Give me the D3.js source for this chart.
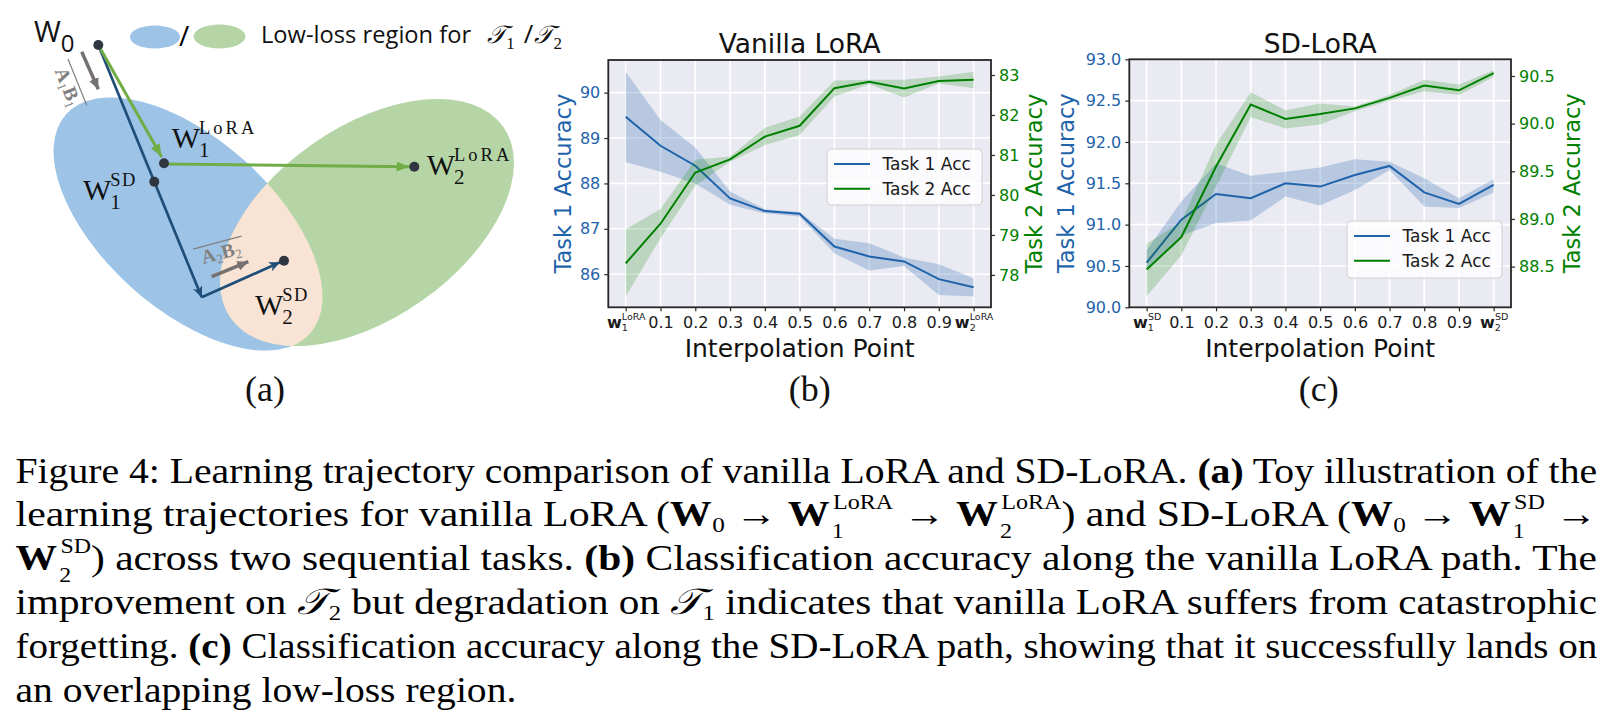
<!DOCTYPE html>
<html><head><meta charset="utf-8">
<script src="https://cdn.jsdelivr.net/npm/d3@7/dist/d3.min.js"></script>
<style>body{margin:0;background:#fff;} svg{display:block;}</style>
</head><body>
<script>
// ================= DATA =================
const interpIndex = [0,1,2,3,4,5,6,7,8,9,10];
const vanillaTickLabels = ["w_1^LoRA","0.1","0.2","0.3","0.4","0.5","0.6","0.7","0.8","0.9","w_2^LoRA"];
const sdTickLabels = ["w_1^SD","0.1","0.2","0.3","0.4","0.5","0.6","0.7","0.8","0.9","w_2^SD"];
const seriesNames = ["Task 1 Acc","Task 2 Acc"];

const vanillaTask1   = [89.47,88.83,88.39,87.67,87.39,87.33,86.61,86.39,86.28,85.89,85.71];
const vanillaTask1Hi = [90.46,89.40,88.79,87.82,87.43,87.37,86.78,86.68,86.37,86.22,85.91];
const vanillaTask1Lo = [88.47,88.26,88.00,87.53,87.34,87.27,86.46,86.08,86.18,85.54,85.51];
const vanillaTask2   = [78.29,79.28,80.56,80.89,81.46,81.73,82.67,82.83,82.66,82.85,82.88];
const vanillaTask2Hi = [79.14,79.65,80.88,80.96,81.68,81.96,82.86,82.88,82.88,82.96,83.08];
const vanillaTask2Lo = [77.46,78.92,80.23,80.83,81.25,81.50,82.46,82.77,82.44,82.79,82.67];

const sdTask1   = [90.54,91.06,91.37,91.32,91.50,91.46,91.60,91.71,91.39,91.25,91.48];
const sdTask1Hi = [90.69,91.28,91.74,91.59,91.64,91.69,91.79,91.76,91.56,91.32,91.55];
const sdTask1Lo = [90.47,90.87,91.02,91.05,91.34,91.23,91.42,91.66,91.22,91.20,91.39];
const sdTask2   = [88.47,88.81,89.55,90.20,90.05,90.10,90.16,90.27,90.40,90.35,90.53];
const sdTask2Hi = [88.74,88.97,89.78,90.33,90.14,90.21,90.18,90.30,90.46,90.41,90.56];
const sdTask2Lo = [88.19,88.62,89.34,90.07,89.95,89.99,90.13,90.24,90.34,90.30,90.49];

const vanillaLeftTicks  = [86,87,88,89,90];
const vanillaRightTicks = [78,79,80,81,82,83];
const sdLeftTicks  = [90.0,90.5,91.0,91.5,92.0,92.5,93.0];
const sdRightTicks = [88.5,89.0,89.5,90.0,90.5];
const vanillaLeftDomain  = [85.27,90.72];
const vanillaRightDomain = [77.19,83.375];
const sdLeftDomain  = [90.0,93.0];
const sdRightDomain = [88.073,90.675];

// ================= SETUP =================
const BLUE = "#1f63ab", GREEN = "#008000";
const svg = d3.select("body").append("svg").attr("width",1615).attr("height",724)
  .style("background","#fff");
const defs = svg.append("defs");

// ================= PANEL (a) =================
(function panelA(){
  const blueE = {cx:188, cy:224, rx:164, ry:85, rot:42};
  const greenE = {cx:367, cy:222.5, rx:166.5, ry:95.6, rot:-35};
  const ell = (sel,e) => sel.attr("cx",e.cx).attr("cy",e.cy).attr("rx",e.rx).attr("ry",e.ry)
     .attr("transform",`rotate(${e.rot},${e.cx},${e.cy})`);
  ell(defs.append("clipPath").attr("id","greenClip").append("ellipse"), greenE);

  const mk = (id,color,w,h,notch) => {
    defs.append("marker").attr("id",id).attr("markerUnits","userSpaceOnUse")
      .attr("markerWidth",w).attr("markerHeight",h).attr("refX",w).attr("refY",h/2)
      .attr("orient","auto").attr("viewBox",`0 0 ${w} ${h}`)
      .append("path").attr("d",`M0,0 L${w},${h/2} L0,${h} L${notch},${h/2} Z`).attr("fill",color);
  };
  mk("arrGreen","#70AD47",13,10,0);
  mk("arrNavy","#1F4E79",11,10,3);
  mk("arrGray","#767171",11,10,0);

  const A = svg.append("g");
  ell(A.append("ellipse"), blueE).attr("fill","#9DC3E6");
  ell(A.append("ellipse"), greenE).attr("fill","#B5D5A6");
  ell(A.append("g").attr("clip-path","url(#greenClip)").append("ellipse"), blueE).attr("fill","#F8E3D5");

  // legend
  A.append("ellipse").attr("cx",155).attr("cy",37).attr("rx",25).attr("ry",11.5).attr("fill","#9DC3E6");
  A.append("text").attr("x",179).attr("y",46).attr("font-family","Open Sans").attr("font-size",28).text("/");
  A.append("ellipse").attr("cx",219.5).attr("cy",36.5).attr("rx",26).attr("ry",12).attr("fill","#B5D5A6");
  const lt = A.append("text").attr("x",261).attr("y",43.3).attr("font-family","Open Sans").attr("font-size",23.7).attr("fill","#111");
  lt.append("tspan").text("Low-loss region for ");
  lt.append("tspan").attr("dx",10).attr("font-family","DejaVu Serif").attr("font-style","italic").attr("font-size",25).text("𝒯");
  lt.append("tspan").attr("font-family","Liberation Serif").attr("font-size",17).attr("dy",6).text("1");
  lt.append("tspan").attr("dx",9).attr("dy",-6).attr("font-size",26).text("/");
  lt.append("tspan").attr("dx",1).attr("font-family","DejaVu Serif").attr("font-style","italic").attr("font-size",25).text("𝒯");
  lt.append("tspan").attr("font-family","Liberation Serif").attr("font-size",17).attr("dy",6).text("2");

  // gray arrows + labels
  A.append("line").attr("x1",81.7).attr("y1",51.7).attr("x2",98.3).attr("y2",89.3)
    .attr("stroke","#767171").attr("stroke-width",3.5).attr("marker-end","url(#arrGray)");
  A.append("line").attr("x1",211.7).attr("y1",276.7).attr("x2",248.3).attr("y2",261.7)
    .attr("stroke","#767171").attr("stroke-width",3.5).attr("marker-end","url(#arrGray)");
  const grayLabel = (cx,cy,rot,a,b) => {
    const g = A.append("g").attr("transform",`translate(${cx},${cy}) rotate(${rot})`);
    const t = g.append("text").attr("text-anchor","middle").attr("y",6.5).attr("fill","#808080")
      .attr("font-family","Liberation Serif").attr("font-weight","bold").attr("font-size",19.5);
    t.append("tspan").text("A");
    t.append("tspan").attr("font-size",13).attr("font-weight","normal").attr("dy",3.5).text(a);
    t.append("tspan").attr("dy",-3.5).text("B");
    t.append("tspan").attr("font-size",13).attr("font-weight","normal").attr("dy",3.5).text(b);
    g.append("line").attr("x1",-26).attr("x2",24).attr("y1",-10.5).attr("y2",-10.5).attr("stroke","#808080").attr("stroke-width",1.2);
  };
  grayLabel(68,87,68,"1","1");
  grayLabel(221,252.5,-15,"2","2");

  // trajectories
  A.append("line").attr("x1",98.3).attr("y1",45).attr("x2",201.7).attr("y2",297.3)
    .attr("stroke","#1F4E79").attr("stroke-width",2.7).attr("marker-end","url(#arrNavy)");
  A.append("line").attr("x1",201.7).attr("y1",297.3).attr("x2",280).attr("y2",262.3)
    .attr("stroke","#1F4E79").attr("stroke-width",2.7).attr("marker-end","url(#arrNavy)");
  A.append("line").attr("x1",99.3).attr("y1",46.7).attr("x2",161.7).attr("y2",157)
    .attr("stroke","#70AD47").attr("stroke-width",3).attr("marker-end","url(#arrGreen)");
  A.append("line").attr("x1",165).attr("y1",164).attr("x2",409.5).attr("y2",166.7)
    .attr("stroke","#70AD47").attr("stroke-width",3).attr("marker-end","url(#arrGreen)");

  // dots
  [[98.3,45],[164,163.3],[414.3,166.7],[154.3,181.7],[284,260.7]].forEach(p=>{
    A.append("circle").attr("cx",p[0]).attr("cy",p[1]).attr("r",5).attr("fill","#2f3640");
  });

  // W0 label (sans)
  const w0 = A.append("text").attr("x",34).attr("y",42).attr("font-family","Open Sans").attr("font-size",29).attr("fill","#111");
  w0.append("tspan").text("W");
  w0.append("tspan").attr("font-size",24).attr("dy",10).text("0");

  // W labels (serif with stacked sub/sup)
  const wLabel = (x, base, sub, sup, ls) => {
    const t = A.append("text").attr("x",x).attr("y",base).attr("font-family","Liberation Serif").attr("fill","#111");
    t.append("tspan").attr("font-size",30).text("W");
    t.append("tspan").attr("font-size",21).attr("dx",-1).attr("dy",9).text(sub);
    t.append("tspan").attr("font-size",18.5).attr("dx",-10.5).attr("dy",-23).attr("letter-spacing",ls).text(sup);
  };
  wLabel(171.7,148.3,"1","LoRA",3);
  wLabel(426.7,175,"2","LoRA",3);
  wLabel(83,200,"1","SD",1.5);
  wLabel(255,315,"2","SD",1.5);

  A.append("text").attr("x",265).attr("y",401).attr("text-anchor","middle")
    .attr("font-family","Liberation Serif").attr("font-size",36).attr("fill","#111").text("(a)");
})();

// ================= LINE CHARTS =================
function drawChart(c){
  const x = d3.scaleLinear().domain([-0.5,10.5]).range([c.left,c.right]);
  const yL = d3.scaleLinear().domain(c.leftDomain).range([c.bottom,c.top]);
  const yR = d3.scaleLinear().domain(c.rightDomain).range([c.bottom,c.top]);
  const g = svg.append("g");
  const W = c.right-c.left, H = c.bottom-c.top, midX = (c.left+c.right)/2, midY=(c.top+c.bottom)/2;

  g.append("rect").attr("x",c.left).attr("y",c.top).attr("width",W).attr("height",H).attr("fill","#EAEAF2");
  g.append("g").selectAll("line").data(interpIndex).join("line")
    .attr("x1",d=>x(d)).attr("x2",d=>x(d)).attr("y1",c.top).attr("y2",c.bottom)
    .attr("stroke","#fff").attr("stroke-width",1.6);
  g.append("g").selectAll("line").data(c.leftTicks).join("line")
    .attr("y1",d=>yL(d)).attr("y2",d=>yL(d)).attr("x1",c.left).attr("x2",c.right)
    .attr("stroke","#fff").attr("stroke-width",1.6);

  defs.append("clipPath").attr("id","clip"+c.id).append("rect")
    .attr("x",c.left).attr("y",c.top).attr("width",W).attr("height",H);
  const p = g.append("g").attr("clip-path",`url(#clip${c.id})`);
  const band = (lo,hi,y) => d3.area().x(i=>x(i)).y0(i=>y(lo[i])).y1(i=>y(hi[i]));
  const line = (v,y) => d3.line().x(i=>x(i)).y(i=>y(v[i]));
  p.append("path").datum(interpIndex).attr("d",band(c.t1Lo,c.t1Hi,yL)).attr("fill",BLUE).attr("fill-opacity",0.25);
  p.append("path").datum(interpIndex).attr("d",line(c.t1,yL)).attr("fill","none").attr("stroke",BLUE).attr("stroke-width",2);
  p.append("path").datum(interpIndex).attr("d",band(c.t2Lo,c.t2Hi,yR)).attr("fill",GREEN).attr("fill-opacity",0.2);
  p.append("path").datum(interpIndex).attr("d",line(c.t2,yR)).attr("fill","none").attr("stroke",GREEN).attr("stroke-width",2);

  g.append("rect").attr("x",c.left).attr("y",c.top).attr("width",W).attr("height",H)
    .attr("fill","none").attr("stroke","#262626").attr("stroke-width",1.8);

  const styleAxis = (ax,color) => {
    ax.select(".domain").remove();
    ax.selectAll(".tick line").attr("stroke","#262626").attr("stroke-width",1.2);
    ax.selectAll(".tick text").attr("font-family","DejaVu Sans").attr("font-size",16).attr("fill",color);
  };
  const xa = g.append("g").attr("transform",`translate(0,${c.bottom})`)
    .call(d3.axisBottom(x).tickValues(interpIndex).tickSize(4).tickPadding(5).tickFormat(i=>c.tickLabels[i]));
  styleAxis(xa,"#1a1a1a");
  xa.selectAll(".tick text").each(function(i){
    const m = /^w_(\d)\^(\w+)$/.exec(c.tickLabels[i]);
    if(!m) return;
    const t = d3.select(this); t.text("");
    t.append("tspan").attr("font-weight","bold").text("w");
    t.append("tspan").attr("font-size",9.5).attr("dy",3.5).text(m[1]);
    t.append("tspan").attr("font-size",9.5).attr("dx",-6).attr("dy",-11.5).text(m[2]);
  });
  const la = g.append("g").attr("transform",`translate(${c.left},0)`)
    .call(d3.axisLeft(yL).tickValues(c.leftTicks).tickSize(4).tickPadding(4).tickFormat(d3.format(c.fmt)));
  styleAxis(la,BLUE);
  const ra = g.append("g").attr("transform",`translate(${c.right},0)`)
    .call(d3.axisRight(yR).tickValues(c.rightTicks).tickSize(4).tickPadding(4).tickFormat(d3.format(c.fmt)));
  styleAxis(ra,GREEN);

  g.append("text").attr("x",midX).attr("y",53.3).attr("text-anchor","middle")
    .attr("font-family","DejaVu Sans").attr("font-size",26.5).attr("fill","#111").text(c.title);
  g.append("text").attr("x",midX).attr("y",356.7).attr("text-anchor","middle")
    .attr("font-family","DejaVu Sans").attr("font-size",25).attr("fill","#111").text("Interpolation Point");
  const ylab = (xx,txt,color) => g.append("text").attr("transform",`translate(${xx},${midY}) rotate(-90)`)
    .attr("text-anchor","middle").attr("dy","0.35em").attr("font-family","DejaVu Sans").attr("font-size",22.5)
    .attr("fill",color).text(txt);
  ylab(c.yLabL,"Task 1 Accuracy",BLUE);
  ylab(c.yLabR,"Task 2 Accuracy",GREEN);

  const L = c.legend;
  const lg = g.append("g");
  lg.append("rect").attr("x",L.x).attr("y",L.y).attr("width",L.w).attr("height",L.h).attr("rx",4)
    .attr("fill","#fff").attr("fill-opacity",0.8).attr("stroke","#d0d0d0").attr("stroke-width",1);
  [BLUE,GREEN].forEach((col,k)=>{
    const yy = L.y+15+k*24.7;
    lg.append("line").attr("x1",L.x+7).attr("x2",L.x+43).attr("y1",yy).attr("y2",yy).attr("stroke",col).attr("stroke-width",2);
    lg.append("text").attr("x",L.x+55.5).attr("y",yy+6).attr("font-family","DejaVu Sans").attr("font-size",17)
      .attr("fill","#1a1a1a").text(seriesNames[k]);
  });
  g.append("text").attr("x",midX+c.subOffset).attr("y",401).attr("text-anchor","middle")
    .attr("font-family","Liberation Serif").attr("font-size",36).attr("fill","#111").text(c.sub);
}

drawChart({id:"van", title:"Vanilla LoRA", left:608.3, right:991, top:60, bottom:307.3,
  leftDomain:vanillaLeftDomain, rightDomain:vanillaRightDomain, leftTicks:vanillaLeftTicks, rightTicks:vanillaRightTicks,
  fmt:"d", tickLabels:vanillaTickLabels,
  t1:vanillaTask1, t1Hi:vanillaTask1Hi, t1Lo:vanillaTask1Lo, t2:vanillaTask2, t2Hi:vanillaTask2Hi, t2Lo:vanillaTask2Lo,
  yLabL:562.7, yLabR:1034, legend:{x:827,y:149,w:155,h:56}, sub:"(b)", subOffset:10});
drawChart({id:"sd", title:"SD-LoRA", left:1129.3, right:1511, top:59.3, bottom:307.3,
  leftDomain:sdLeftDomain, rightDomain:sdRightDomain, leftTicks:sdLeftTicks, rightTicks:sdRightTicks,
  fmt:".1f", tickLabels:sdTickLabels,
  t1:sdTask1, t1Hi:sdTask1Hi, t1Lo:sdTask1Lo, t2:sdTask2, t2Hi:sdTask2Hi, t2Lo:sdTask2Lo,
  yLabL:1066.6, yLabR:1572.5, legend:{x:1347,y:221,w:155,h:57}, sub:"(c)", subOffset:-1.4});

// ================= CAPTION =================
const captionLines = [
  [["n","Figure 4: Learning trajectory comparison of vanilla LoRA and SD-LoRA. "],["b","(a)"],["n"," Toy illustration of the"]],
  [["n","learning trajectories for vanilla LoRA ("],["b","W"],["s0","0"],["n"," → "],["b","W"],["sub","1"],["sup","LoRA"],["n"," → "],["b","W"],["sub","2"],["sup","LoRA"],["n",") and SD-LoRA ("],["b","W"],["s0","0"],["n"," → "],["b","W"],["sub","1"],["sup","SD"],["n"," →"]],
  [["b","W"],["sub","2"],["sup","SD"],["n",") across two sequential tasks. "],["b","(b)"],["n"," Classification accuracy along the vanilla LoRA path. The"]],
  [["n","improvement on "],["cal","𝒯"],["s0","2"],["n"," but degradation on "],["cal","𝒯"],["s0","1"],["n"," indicates that vanilla LoRA suffers from catastrophic"]],
  [["n","forgetting. "],["b","(c)"],["n"," Classification accuracy along the SD-LoRA path, showing that it successfully lands on"]],
  [["n","an overlapping low-loss region."]]
];
const capBase = [482.5,526.4,570.3,614.2,658.1,702];
const capWidth = [1582,1582,1582,1582,1582,501];
captionLines.forEach((segs,li)=>{
  const t = svg.append("text").attr("x",0).attr("y",0).attr("font-family","Liberation Serif")
    .attr("font-size",36.5).attr("fill","#000");
  let shift = 0;
  segs.forEach(([k,s])=>{
    const ts = t.append("tspan").text(s);
    let target = 0;
    if(k==="b") ts.attr("font-weight","bold");
    if(k==="sub"){ target = 11.5; ts.attr("font-size",21).attr("dx",2); }
    if(k==="s0"){ target = 6; ts.attr("font-size",22).attr("dx",0.5); }
    if(k==="sup"){ target = -17.5; ts.attr("font-size",21).attr("dx",-9.5); }
    if(k==="cal"){ ts.attr("font-family","DejaVu Serif").attr("font-style","italic"); }
    if(target!==shift){ ts.attr("dy",target-shift); shift = target; }
  });
  const natural = t.node().getBBox().width;
  const sx = capWidth[li] / natural;
  t.attr("transform",`translate(15.5,${capBase[li]}) scale(${sx},1)`);
});
</script>
</body></html>
